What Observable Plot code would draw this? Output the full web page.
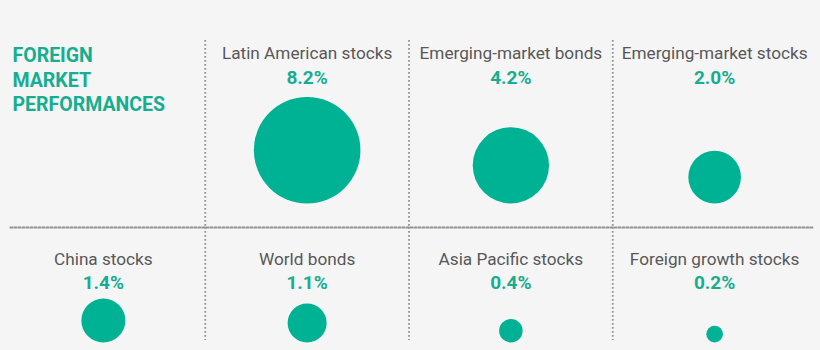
<!DOCTYPE html>
<html>
<head>
<meta charset="utf-8">
<script src="https://cdn.jsdelivr.net/npm/d3@7"></script>
<script src="https://cdn.jsdelivr.net/npm/@observablehq/plot@0.6"></script>
<style>
  html, body { margin: 0; padding: 0; background: #f5f5f5; }
  #chart { width: 820px; height: 350px; overflow: hidden; }
  #chart svg { display: block; }
</style>
</head>
<body>
<div id="chart"></div>
<script>
// ---- data ----
const titleText = "FOREIGN\nMARKET\nPERFORMANCES";
const topLabels = ["Latin American stocks", "Emerging-market bonds", "Emerging-market stocks"];
const topValues = [8.2, 4.2, 2.0];
const bottomLabels = ["China stocks", "World bonds", "Asia Pacific stocks", "Foreign growth stocks"];
const bottomValues = [1.4, 1.1, 0.4, 0.2];
const columnBreaks = [1, 2, 3];

// ---- build tables ----
const topRow = topLabels.map((label, i) => ({label, value: topValues[i], col: i + 1}));
const bottomRow = bottomLabels.map((label, i) => ({label, value: bottomValues[i], col: i}));
const maxValue = d3.max([...topValues, ...bottomValues]);
const fmt = v => d3.format(".1f")(v) + "%";

const FONT = "Roboto, 'Liberation Sans', sans-serif";
const TEAL = "#00b294";
const TEAL_TEXT = "#16ad91";
const GRAY_TEXT = "#585858";
const DOT_LINE = {stroke: "#929292", strokeWidth: 1.8, strokeDasharray: "1.8,2.2"};
const RMAX = 53.3;

function panel({data, height, marginTop, marginBottom, circleBottom, labelDy, valueDy, extra}) {
  return Plot.plot({
    width: 820,
    height,
    marginTop,
    marginBottom,
    marginLeft: 10,
    marginRight: 8,
    style: {background: "transparent", fontFamily: FONT, overflow: "visible"},
    x: {domain: [0, 4], range: [1, 816], axis: null},
    y: {type: "sqrt", domain: [0, maxValue], range: [circleBottom, circleBottom - RMAX], axis: null},
    r: {type: "sqrt", domain: [0, maxValue], range: [0, RMAX]},
    marks: [
      ...extra,
      Plot.ruleX(columnBreaks, {x: d => d, ...DOT_LINE}),
      Plot.dot(data, {x: d => d.col + 0.5, y: "value", r: "value", fill: TEAL}),
      Plot.text(data, {
        x: d => d.col + 0.5, text: "label", frameAnchor: "top", lineAnchor: "bottom",
        dy: labelDy, fontSize: 17.2, fill: GRAY_TEXT, fontFamily: FONT
      }),
      Plot.text(data, {
        x: d => d.col + 0.5, text: d => fmt(d.value), frameAnchor: "top", lineAnchor: "bottom",
        dy: valueDy, fontSize: 19, fontWeight: "bold", fill: TEAL_TEXT, fontFamily: FONT
      })
    ]
  });
}

const topPanel = panel({
  data: topRow, height: 226, marginTop: 40, marginBottom: 0, circleBottom: 203,
  labelDy: 18, valueDy: 43,
  extra: [
    Plot.text([titleText], {
      x: () => 0, text: d => d, frameAnchor: "top", lineAnchor: "top", textAnchor: "start",
      dx: 11, dy: 4, lineHeight: 1.26, fontSize: 19.5, fontWeight: "bold",
      fill: TEAL_TEXT, fontFamily: FONT
    })
  ]
});

const bottomPanel = panel({
  data: bottomRow, height: 124, marginTop: 1, marginBottom: 10, circleBottom: 116,
  labelDy: 37, valueDy: 61,
  extra: [Plot.frame({anchor: "top", ...DOT_LINE})]
});

const chart = document.getElementById("chart");
chart.appendChild(topPanel);
chart.appendChild(bottomPanel);
</script>
</body>
</html>
